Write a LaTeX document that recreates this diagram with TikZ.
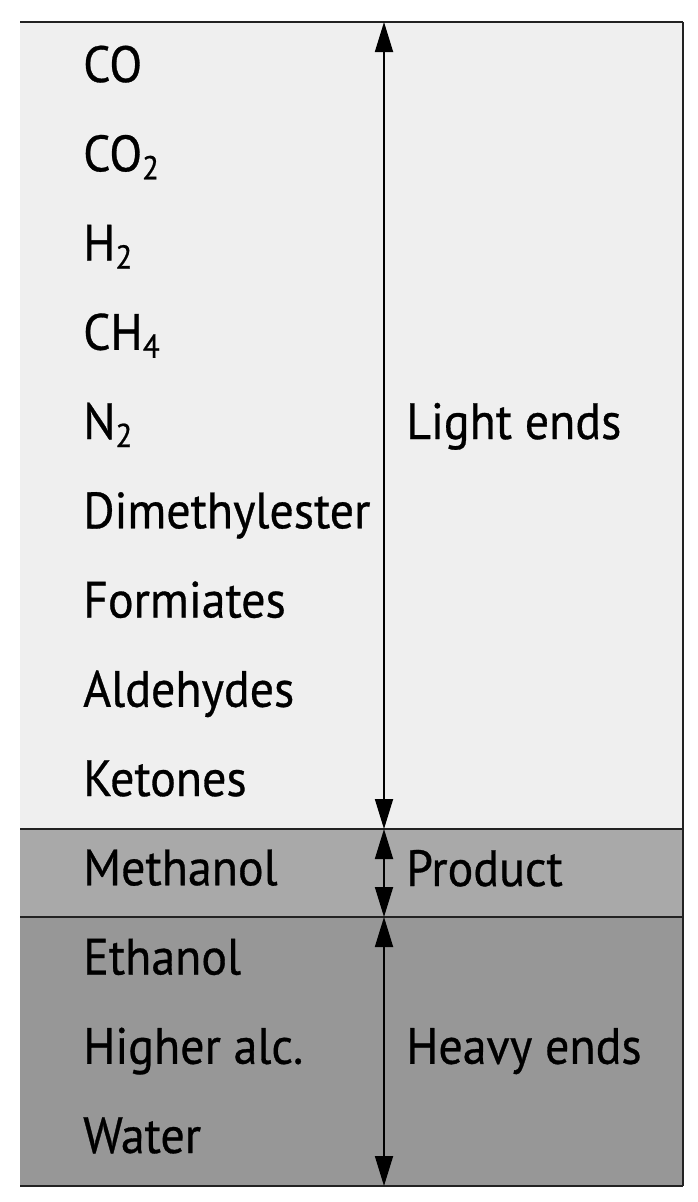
\documentclass[tikz,border=0pt]{standalone}
\usepackage{fontspec}
\setmainfont[FakeStretch=0.94,FakeBold=0.6]{PT Sans}
\usetikzlibrary{arrows.meta}
\definecolor{lightband}{HTML}{EFEFEF}
\definecolor{productband}{HTML}{A9A9A9}
\definecolor{heavyband}{HTML}{979797}
\definecolor{rulecol}{HTML}{222222}
\newcommand{\lowsub}[1]{\raisebox{-8pt}{\fontsize{33}{33}\selectfont #1}}
\begin{document}
\begin{tikzpicture}[x=1pt,y=-1pt,
  item/.style={anchor=base west,inner sep=0pt,font=\fontsize{51}{60}\selectfont},
  border/.style={draw=rulecol,line width=2.4pt},
  dimarrow/.style={draw=black,line width=1.8pt,{Triangle[length=30pt,width=18pt]}-{Triangle[length=30pt,width=18pt]}}]
\useasboundingbox (0,0) rectangle (697,1202);
\fill[white] (0,0) rectangle (697,1202);
% coordinates
\coordinate (tl) at (20,22);
\coordinate (tr) at (683,22);
\coordinate (ml) at (20,829);
\coordinate (mr) at (683,829);
\coordinate (nl) at (20,917);
\coordinate (nr) at (683,917);
\coordinate (bl) at (20,1186);
\coordinate (br) at (683,1186);
% bands
\fill[lightband] (tl) rectangle (mr);
\fill[productband] (ml) rectangle (nr);
\fill[heavyband] (nl) rectangle (br);
% rules
\draw[border] (tl) -- (tr);
\draw[border] (ml) -- (mr);
\draw[border] (nl) -- (nr);
\draw[border] (bl) -- (br);
\draw[border] (tr) -- (br);
% arrows
\coordinate (a0) at (384,22);
\coordinate (a1) at (384,829);
\coordinate (a2) at (384,917);
\coordinate (a3) at (384,1186);
\draw[dimarrow] (a0) -- (a1);
\draw[dimarrow] (a1) -- (a2);
\draw[dimarrow] (a2) -- (a3);
% list items
\node[item] (co) at (83,82) {CO};
\node[item] (co2) at (83,171.25) {CO\lowsub{2}};
\node[item] (h2) at (83,260.5) {H\lowsub{2}};
\node[item] (ch4) at (83,349.75) {CH\lowsub{4}};
\node[item] (n2) at (83,439) {N\lowsub{2}};
\node[item] (dme) at (83,528.25) {Dimethylester};
\node[item] (form) at (83,617.5) {Formiates};
\node[item] (ald) at (83,706.75) {Aldehydes};
\node[item] (ket) at (83,796) {Ketones};
\node[item] (meoh) at (83,885.25) {Methanol};
\node[item] (etoh) at (83,974.5) {Ethanol};
\node[item] (hialc) at (83,1063.75) {Higher alc.};
\node[item] (water) at (83,1153) {Water};
% group labels
\node[item] (light) at (406,439) {Light ends};
\node[item] (prod) at (406,886) {Product};
\node[item] (heavy) at (406,1063.75) {Heavy ends};
\end{tikzpicture}
\end{document}
